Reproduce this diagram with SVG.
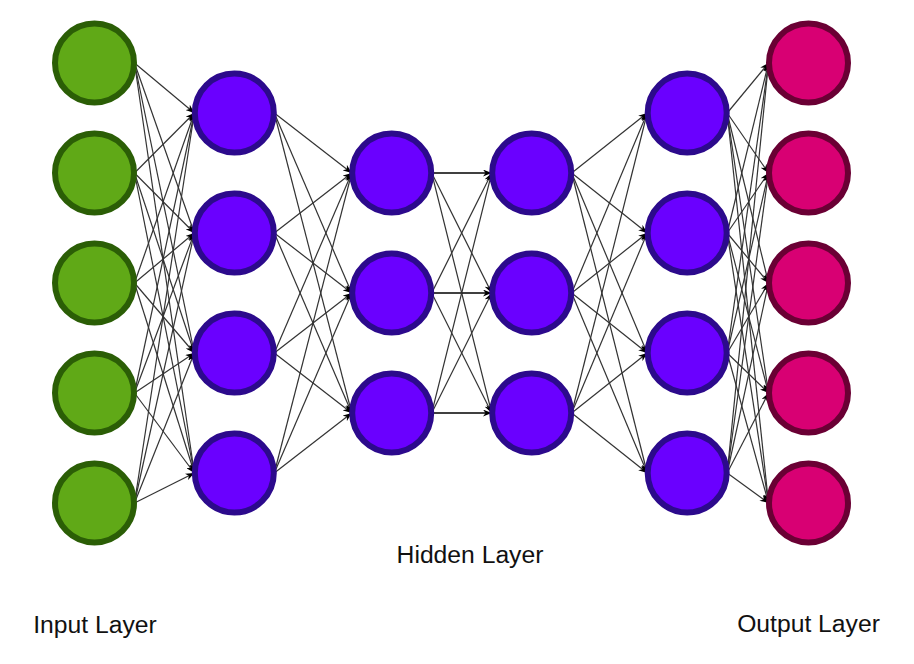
<svg xmlns="http://www.w3.org/2000/svg" width="914" height="664" viewBox="0 0 914 664">
<style>
.in{fill:#60a917;stroke:#2b5e06;stroke-width:6}
.hid{fill:#6a00ff;stroke:#2c0a8c;stroke-width:6}
.out{fill:#d80073;stroke:#6a0034;stroke-width:6}
.e line{stroke:#333;stroke-width:1.2;fill:none;marker-end:url(#arr)}
.e .s{stroke:#000;stroke-width:1.3}
.lbl{font-family:"Liberation Sans",Arial,sans-serif;font-size:24.7px;fill:#111;text-anchor:middle}
</style>
<defs>
<marker id="arr" viewBox="0 0 10 8" refX="10" refY="4" markerWidth="9" markerHeight="7" markerUnits="userSpaceOnUse" orient="auto">
<path d="M0,0 L10,4 L0,8 L3,4 z" fill="#000"/>
</marker>
</defs>
<rect width="914" height="664" fill="#fff"/>
<g id="connectors" class="e">
<line x1="134.5" y1="63" x2="194.3" y2="113"/><line x1="134.5" y1="63" x2="194.3" y2="233"/><line x1="134.5" y1="63" x2="194.3" y2="353"/><line x1="134.5" y1="63" x2="194.3" y2="473"/>
<line x1="134.5" y1="173" x2="194.3" y2="113"/><line x1="134.5" y1="173" x2="194.3" y2="233"/><line x1="134.5" y1="173" x2="194.3" y2="353"/><line x1="134.5" y1="173" x2="194.3" y2="473"/>
<line x1="134.5" y1="283" x2="194.3" y2="113"/><line x1="134.5" y1="283" x2="194.3" y2="233"/><line x1="134.5" y1="283" x2="194.3" y2="353"/><line x1="134.5" y1="283" x2="194.3" y2="473"/>
<line x1="134.5" y1="393" x2="194.3" y2="113"/><line x1="134.5" y1="393" x2="194.3" y2="233"/><line x1="134.5" y1="393" x2="194.3" y2="353"/><line x1="134.5" y1="393" x2="194.3" y2="473"/>
<line x1="134.5" y1="503" x2="194.3" y2="113"/><line x1="134.5" y1="503" x2="194.3" y2="233"/><line x1="134.5" y1="503" x2="194.3" y2="353"/><line x1="134.5" y1="503" x2="194.3" y2="473"/>
<line x1="274.3" y1="113" x2="351.7" y2="173"/><line x1="274.3" y1="113" x2="351.7" y2="293"/><line x1="274.3" y1="113" x2="351.7" y2="413"/>
<line x1="274.3" y1="233" x2="351.7" y2="173"/><line x1="274.3" y1="233" x2="351.7" y2="293"/><line x1="274.3" y1="233" x2="351.7" y2="413"/>
<line x1="274.3" y1="353" x2="351.7" y2="173"/><line x1="274.3" y1="353" x2="351.7" y2="293"/><line x1="274.3" y1="353" x2="351.7" y2="413"/>
<line x1="274.3" y1="473" x2="351.7" y2="173"/><line x1="274.3" y1="473" x2="351.7" y2="293"/><line x1="274.3" y1="473" x2="351.7" y2="413"/>
<line class="s" x1="431.7" y1="173" x2="491.7" y2="173"/><line x1="431.7" y1="173" x2="491.7" y2="293"/><line x1="431.7" y1="173" x2="491.7" y2="413"/>
<line x1="431.7" y1="293" x2="491.7" y2="173"/><line class="s" x1="431.7" y1="293" x2="491.7" y2="293"/><line x1="431.7" y1="293" x2="491.7" y2="413"/>
<line x1="431.7" y1="413" x2="491.7" y2="173"/><line x1="431.7" y1="413" x2="491.7" y2="293"/><line class="s" x1="431.7" y1="413" x2="491.7" y2="413"/>
<line x1="571.7" y1="173" x2="647.2" y2="113"/><line x1="571.7" y1="173" x2="647.2" y2="233"/><line x1="571.7" y1="173" x2="647.2" y2="353"/><line x1="571.7" y1="173" x2="647.2" y2="473"/>
<line x1="571.7" y1="293" x2="647.2" y2="113"/><line x1="571.7" y1="293" x2="647.2" y2="233"/><line x1="571.7" y1="293" x2="647.2" y2="353"/><line x1="571.7" y1="293" x2="647.2" y2="473"/>
<line x1="571.7" y1="413" x2="647.2" y2="113"/><line x1="571.7" y1="413" x2="647.2" y2="233"/><line x1="571.7" y1="413" x2="647.2" y2="353"/><line x1="571.7" y1="413" x2="647.2" y2="473"/>
<line x1="727.2" y1="113" x2="768.5" y2="63"/><line x1="727.2" y1="113" x2="768.5" y2="173"/><line x1="727.2" y1="113" x2="768.5" y2="283"/><line x1="727.2" y1="113" x2="768.5" y2="393"/><line x1="727.2" y1="113" x2="768.5" y2="503"/>
<line x1="727.2" y1="233" x2="768.5" y2="63"/><line x1="727.2" y1="233" x2="768.5" y2="173"/><line x1="727.2" y1="233" x2="768.5" y2="283"/><line x1="727.2" y1="233" x2="768.5" y2="393"/><line x1="727.2" y1="233" x2="768.5" y2="503"/>
<line x1="727.2" y1="353" x2="768.5" y2="63"/><line x1="727.2" y1="353" x2="768.5" y2="173"/><line x1="727.2" y1="353" x2="768.5" y2="283"/><line x1="727.2" y1="353" x2="768.5" y2="393"/><line x1="727.2" y1="353" x2="768.5" y2="503"/>
<line x1="727.2" y1="473" x2="768.5" y2="63"/><line x1="727.2" y1="473" x2="768.5" y2="173"/><line x1="727.2" y1="473" x2="768.5" y2="283"/><line x1="727.2" y1="473" x2="768.5" y2="393"/><line x1="727.2" y1="473" x2="768.5" y2="503"/>
</g>
<g id="in1"><circle class="in" cx="94.5" cy="63" r="39.5"/></g>
<g id="in2"><circle class="in" cx="94.5" cy="173" r="39.5"/></g>
<g id="in3"><circle class="in" cx="94.5" cy="283" r="39.5"/></g>
<g id="in4"><circle class="in" cx="94.5" cy="393" r="39.5"/></g>
<g id="in5"><circle class="in" cx="94.5" cy="503" r="39.5"/></g>
<g id="h1a"><circle class="hid" cx="234.3" cy="113" r="39.5"/></g>
<g id="h1b"><circle class="hid" cx="234.3" cy="233" r="39.5"/></g>
<g id="h1c"><circle class="hid" cx="234.3" cy="353" r="39.5"/></g>
<g id="h1d"><circle class="hid" cx="234.3" cy="473" r="39.5"/></g>
<g id="h2a"><circle class="hid" cx="391.7" cy="173" r="39.5"/></g>
<g id="h2b"><circle class="hid" cx="391.7" cy="293" r="39.5"/></g>
<g id="h2c"><circle class="hid" cx="391.7" cy="413" r="39.5"/></g>
<g id="h3a"><circle class="hid" cx="531.7" cy="173" r="39.5"/></g>
<g id="h3b"><circle class="hid" cx="531.7" cy="293" r="39.5"/></g>
<g id="h3c"><circle class="hid" cx="531.7" cy="413" r="39.5"/></g>
<g id="h4a"><circle class="hid" cx="687.2" cy="113" r="39.5"/></g>
<g id="h4b"><circle class="hid" cx="687.2" cy="233" r="39.5"/></g>
<g id="h4c"><circle class="hid" cx="687.2" cy="353" r="39.5"/></g>
<g id="h4d"><circle class="hid" cx="687.2" cy="473" r="39.5"/></g>
<g id="out1"><circle class="out" cx="808.5" cy="63" r="39.5"/></g>
<g id="out2"><circle class="out" cx="808.5" cy="173" r="39.5"/></g>
<g id="out3"><circle class="out" cx="808.5" cy="283" r="39.5"/></g>
<g id="out4"><circle class="out" cx="808.5" cy="393" r="39.5"/></g>
<g id="out5"><circle class="out" cx="808.5" cy="503" r="39.5"/></g>
<g id="labels">
<text class="lbl" x="95" y="633">Input Layer</text>
<text class="lbl" x="470" y="563">Hidden Layer</text>
<text class="lbl" x="808.5" y="632">Output Layer</text>
</g>
</svg>
